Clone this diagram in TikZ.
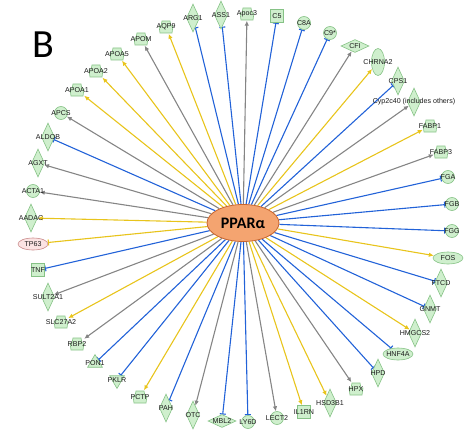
\documentclass[tikz,border=0pt]{standalone}
\usepackage{fontspec}
\setmainfont{Liberation Sans}
\newfontfamily\calib{Carlito}
\usetikzlibrary{shapes.geometric,arrows.meta}
\definecolor{gfill}{HTML}{CFEFCD}
\definecolor{gdraw}{HTML}{86C286}
\definecolor{eblue}{HTML}{2262D8}
\definecolor{eyel}{HTML}{E8C41C}
\definecolor{egray}{HTML}{858585}
\definecolor{ofill}{HTML}{F4A470}
\definecolor{odraw}{HTML}{C8642D}
\definecolor{pfill}{HTML}{FBE3E3}
\definecolor{pdraw}{HTML}{C98A8A}
\definecolor{labc}{HTML}{1A1A1A}
\pgfdeclarelayer{bg}
\pgfdeclarelayer{mid}
\pgfsetlayers{bg,mid,main}
\tikzset{
  gn/.style={fill=gfill,draw=gdraw,line width=0.6pt,inner sep=0pt},
  vdia/.style={gn,diamond,minimum width=13pt,minimum height=28pt},
  hdia/.style={gn,diamond,minimum width=28pt,minimum height=13pt},
  circ/.style={gn,circle,minimum size=13pt},
  sq/.style={gn,rectangle,minimum size=13pt},
  hell/.style={gn,ellipse,minimum width=30pt,minimum height=12pt},
  pell/.style={hell,fill=pfill,draw=pdraw},
  vell/.style={gn,ellipse,minimum width=13pt,minimum height=27pt},
  triup/.style={gn,regular polygon,regular polygon sides=3,minimum size=17pt},
  tridn/.style={triup,shape border rotate=180},
  cup/.style={rectangle,inner sep=0pt,minimum width=14pt,minimum height=13pt},
  lab/.style={font=\fontsize{7.1}{7.5}\selectfont,text=labc,inner sep=0pt},
  edge/.style={line width=1.1pt},
  ebar/.style={edge,draw=eblue,-{Bar[width=6pt,line width=1.1pt]}},
  ybar/.style={edge,draw=eyel,-{Bar[width=6pt,line width=1.1pt]}},
  garr/.style={edge,draw=egray,-{Latex[length=5pt,width=4.5pt]}},
  yarr/.style={edge,draw=eyel,-{Latex[length=5pt,width=4.5pt]}},
}
\def\nodelist{arg1/193/18/vdia/ARG1/ebar, ass1/221/15/vdia/ASS1/ebar,
 apoc3/247/14/cup/Apoc3/garr, c5/277/16/sq/C5/ebar, c8a/304/23/circ/C8A/ebar,
 c9/330/33/circ/C9*/ebar, cfi/355/46/hdia/CFI/garr, chrna2/378/62/vell/CHRNA2/yarr,
 cps1/398/81/vdia/CPS1/ebar, cyp/414/102/vdia/Cyp2c40 (includes others)/garr,
 fabp1/430/126/cup/FABP1/yarr, fabp3/441/152/cup/FABP3/garr,
 fga/448/177/circ/FGA/ebar, fgb/452/204/circ/FGB/ebar, fgg/452/231/circ/FGG/ebar,
 fos/448/258/hell/FOS/yarr, ftcd/441/283/vdia/FTCD/ebar, gnmt/430/309/vdia/GNMT/ebar,
 hmgcs2/415/333/vdia/HMGCS2/yarr, hnf4a/398/354/hell/HNF4A/ebar,
 hpd/378/373/vdia/HPD/ebar, hpx/356/389/cup/HPX/garr, hsd3b1/330/403/vdia/HSD3B1/yarr,
 il1rn/304/412/sq/IL1RN/yarr, lect2/277/418/circ/LECT2/garr, ly6d/248/422/circ/LY6D/ebar,
 mbl2/222/421/hdia/MBL2/ebar, otc/193/415/vdia/OTC/garr, pah/166/408/vdia/PAH/ebar,
 pctp/140/397/cup/PCTP/yarr, pklr/117/380/tridn/PKLR/ebar, pon1/95/363/triup/PON1/ebar,
 rbp2/77/344/cup/RBP2/garr, slc27a2/61/322/cup/SLC27A2/yarr, sult2a1/48/297/vdia/SULT2A1/garr,
 tnf/38/270/sq/TNF/ebar, tp63/33/244/pell/TP63/ybar, aadac/31/218/vdia/AADAC/yarr,
 acta1/33/191/circ/ACTA1/garr, agxt/38/163/vdia/AGXT/garr, aldob/48/137/vdia/ALDOB/ebar,
 apcs/61/113/circ/APCS/garr, apoa1/77/90/cup/APOA1/yarr, apoa2/96/71/cup/APOA2/yarr,
 apoa5/117/54/cup/APOA5/yarr, apom/141/39/cup/APOM/garr, aqp9/166/27/cup/AQP9/yarr}
\begin{document}
\begin{tikzpicture}[x=1pt,y=-1pt]
\useasboundingbox (0,0) rectangle (474,436);
\node[font=\calib\fontsize{40}{40}\selectfont,inner sep=0pt] (B) at (43,45) {B};
\node[ellipse,fill=ofill,draw=odraw,line width=0.8pt,minimum width=72pt,minimum height=37pt,inner sep=0pt,
  font=\calib\bfseries\fontsize{16}{16}\selectfont] (c) at (243,223) {PPARα};
\foreach \nm/\x/\y/\sh/\lb/\ed in \nodelist {
  \node[\sh,label={[lab]center:\lb}] (\nm) at (\x,\y) {};
}
\begin{pgfonlayer}{mid}
\foreach \nm in {apoc3,fabp1,fabp3,hpx,pctp,rbp2,slc27a2,apoa1,apoa2,apoa5,apom,aqp9}
  \draw[gn,shift={(\nm.center)}] (-4,-6) -- (4,-6) -- (5,-1) -- (7,-1) -- (6,6) -- (-6,6) -- (-7,-1) -- (-5,-1) -- cycle;
\end{pgfonlayer}
\begin{pgfonlayer}{bg}
\foreach \nm/\x/\y/\sh/\lb/\ed in \nodelist {
  \draw[\ed] (c) -- (\nm);
}
\end{pgfonlayer}
\end{tikzpicture}
\end{document}
